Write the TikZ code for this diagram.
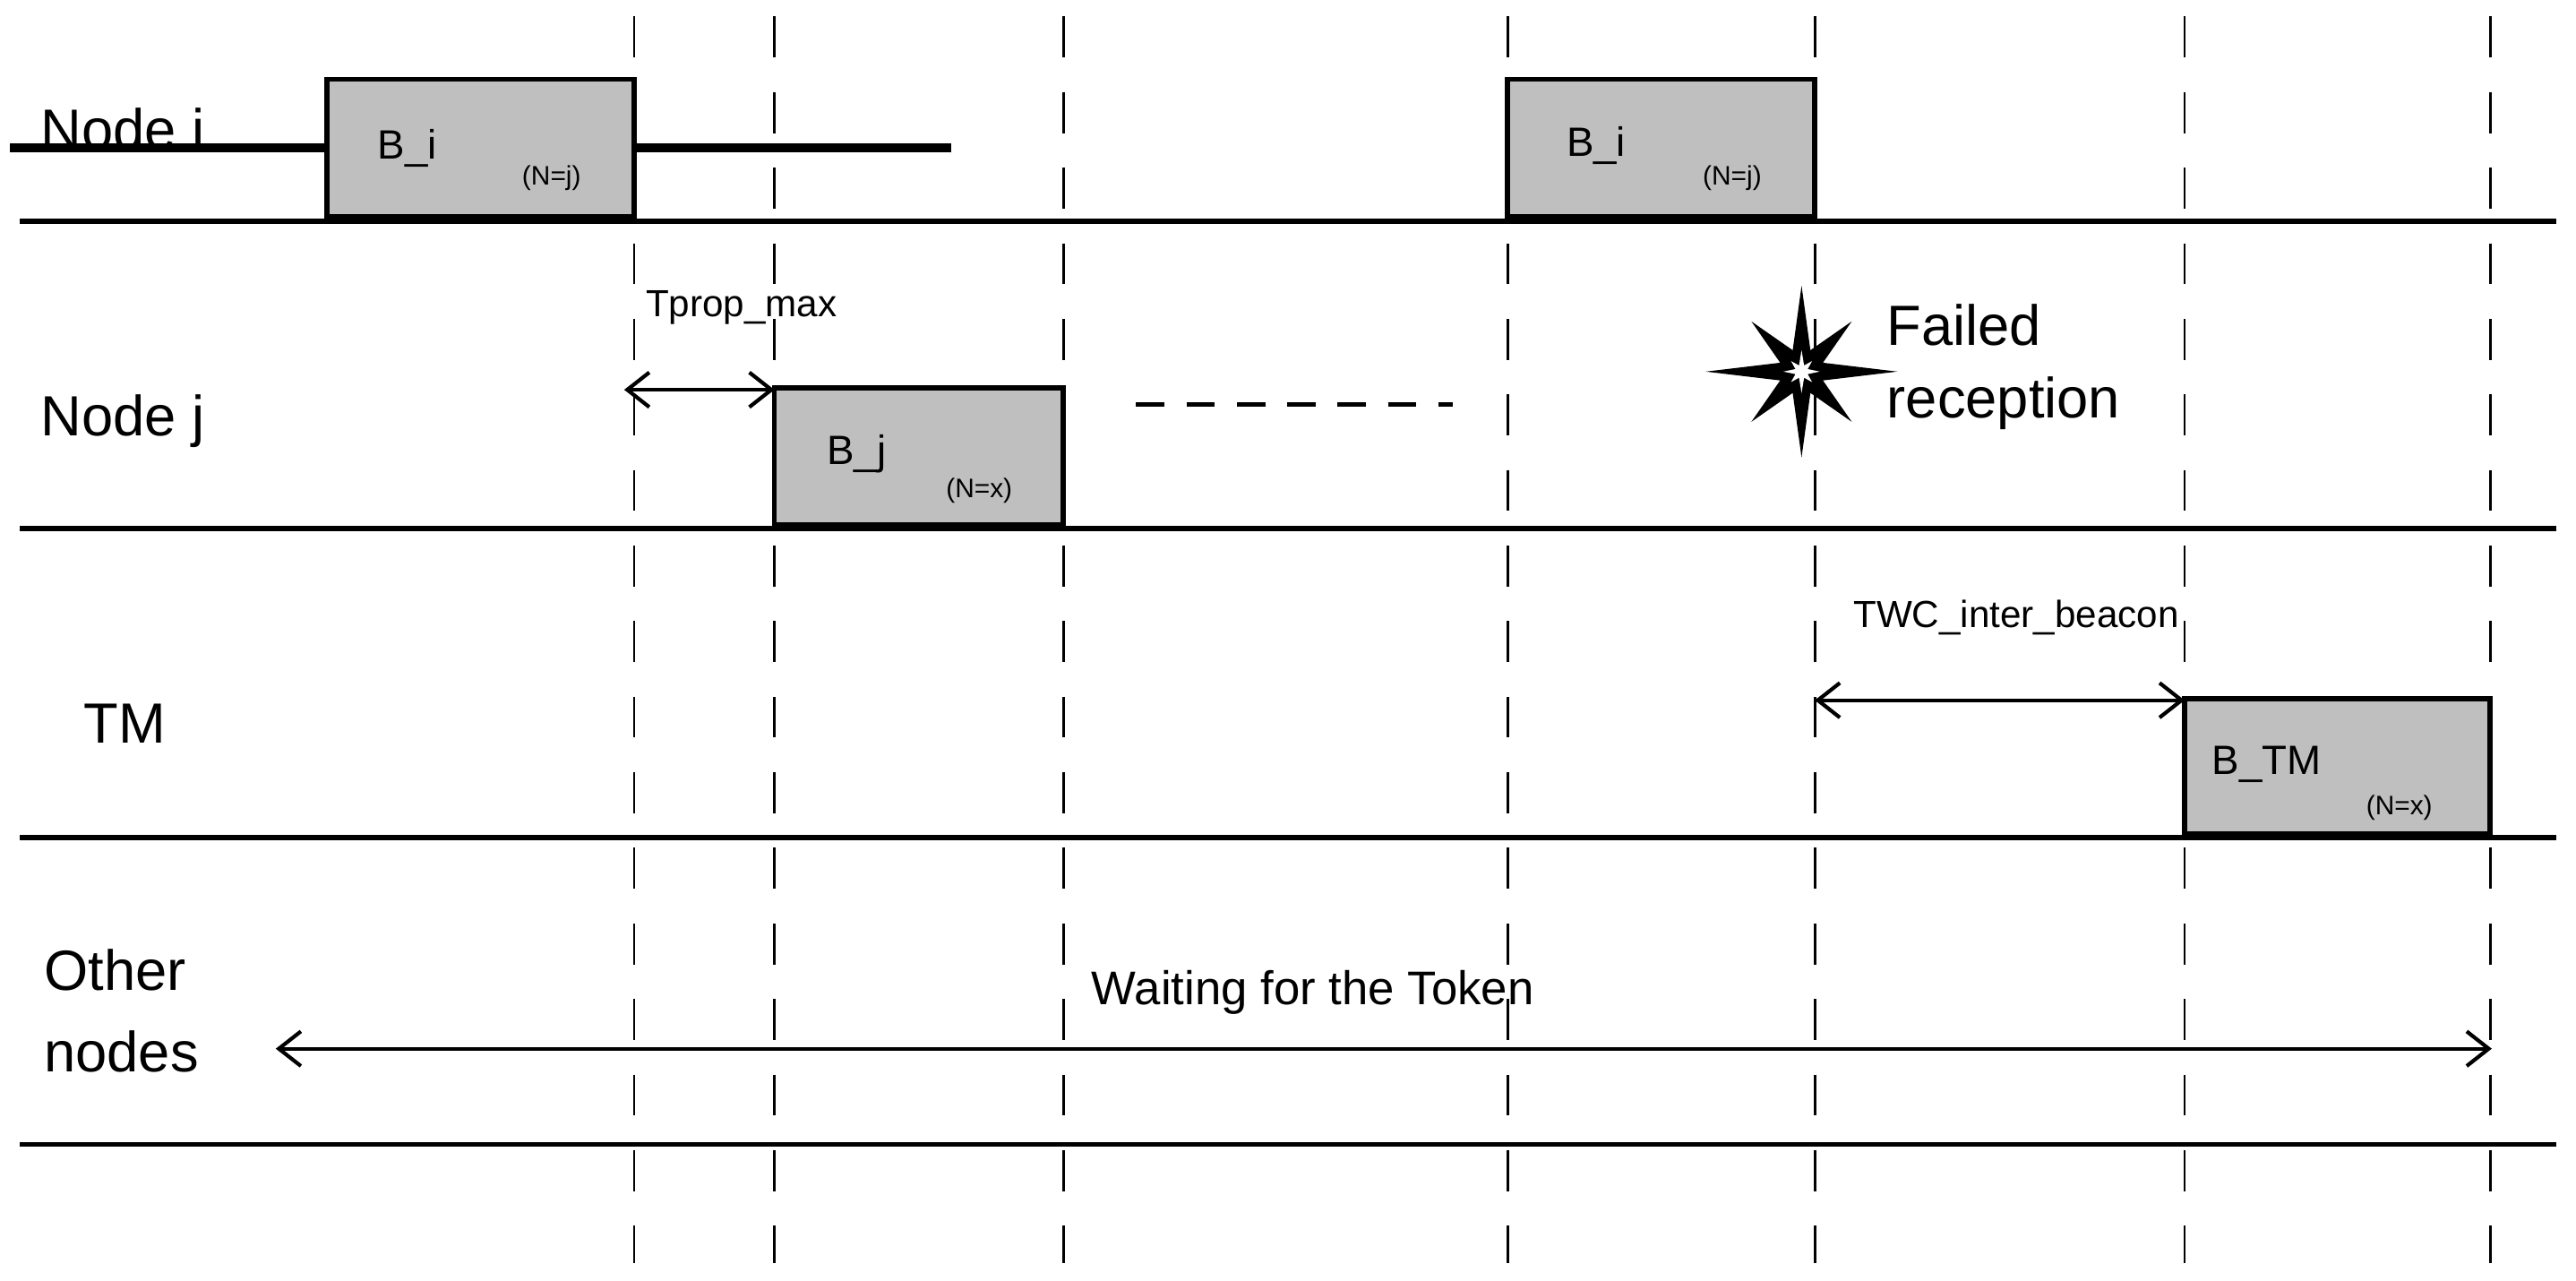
\documentclass[tikz,border=0pt]{standalone}
\usepackage{fontspec}
\setmainfont{Liberation Sans}
\begin{document}
\begin{tikzpicture}[x=0.018436cm,y=-0.018436cm,
  hl/.style={line width=1.6pt},
  vd/.style={line width=0.8pt,dash pattern=on 13pt off 11pt},
  box/.style={draw,line width=1.6pt,fill=black!25,inner sep=0pt},
  lbl/.style={font=\fontsize{18}{22}\selectfont,align=left},
  bt/.style={font=\fontsize{13}{15}\selectfont},
  sm/.style={font=\fontsize{8.5}{10}\selectfont},
  arr/.style={line width=1.2pt,<->,>={Straight Barb[length=7pt,width=11pt,line width=1.2pt]}}]
\usetikzlibrary{arrows.meta}
\useasboundingbox (0,0) rectangle (1560,775.6);
% vertical dashed
\foreach \x in {384,469,644,913,1099,1323,1508}{\draw[vd] (\x,10) -- (\x,765);}
% boxes
\node[box,minimum width=186\pgflinewidth] (bi1) at (291,89.5) {};
\path[box,draw] (198,48) rectangle (384,131);
\path[box,draw] (913,48) rectangle (1099,131);
\path[box,draw] (469,235) rectangle (644,318);
\path[box,draw] (1323,423) rectangle (1508,505);
% horizontal lines
\foreach \y in {134,320,507,693}{\draw[hl] (12,\y) -- (1548,\y);}
% row labels
\node[lbl,anchor=west] (ni) at (18,78) {Node i};
\node[lbl,anchor=west] (nj) at (18,255) {Node j};
\node[lbl,anchor=west] (tm) at (44,438) {TM};
\node[lbl,anchor=west] (on) at (20,612) {Other\\[4pt]nodes};
% box texts
\node[bt,anchor=west] (t1) at (222,90) {B\_i};
\node[sm] (s1) at (334,108) {(N=j)};
\node[bt,anchor=west] (t2) at (942,88) {B\_i};
\node[sm] (s2) at (1049,108) {(N=j)};
\node[bt,anchor=west] (t3) at (494,275) {B\_j};
\node[sm] (s3) at (593,297) {(N=x)};
\node[bt,anchor=west] (t4) at (1333,463) {B\_TM};
\node[sm] (s4) at (1453,489) {(N=x)};
% arrows
\coordinate (a1) at (378,236); \coordinate (a2) at (469,236);
\draw[arr] (a1) -- (a2);
\node[font=\fontsize{12}{14}\selectfont] (tp) at (449,186) {Tprop\_max};
\coordinate (b1) at (1099,424); \coordinate (b2) at (1323,424);
\draw[arr] (b1) -- (b2);
\node[font=\fontsize{12}{14}\selectfont] (tw) at (1221,374) {TWC\_inter\_beacon};
\coordinate (c1) at (167,635); \coordinate (c2) at (1509,635);
\draw[arr] (c1) -- (c2);
\node[font=\fontsize{15}{18}\selectfont] (wt) at (795,601) {Waiting for the Token};
% dashed horizontal
\coordinate (d1) at (688,245); \coordinate (d2) at (880,245);
\draw[line width=1.6pt,dash pattern=on 9pt off 7pt] (d1) -- (d2);
% star
\begin{scope}[shift={(1091,225)}]
\fill[black] (0:58) -- (22.5:14) -- (45:43) -- (67.5:14) -- (90:52) -- (112.5:14) -- (135:43) -- (157.5:14) -- (180:58) -- (202.5:14) -- (225:43) -- (247.5:14) -- (270:52) -- (292.5:14) -- (315:43) -- (337.5:14) -- cycle;
\fill[white] (0:11) -- (22.5:4) -- (45:9) -- (67.5:4) -- (90:13) -- (112.5:4) -- (135:9) -- (157.5:4) -- (180:11) -- (202.5:4) -- (225:9) -- (247.5:4) -- (270:13) -- (292.5:4) -- (315:9) -- (337.5:4) -- cycle;
\end{scope}
\node[lbl,anchor=west] (fr) at (1136,222) {Failed\\[1pt]reception};
\end{tikzpicture}
\end{document}
